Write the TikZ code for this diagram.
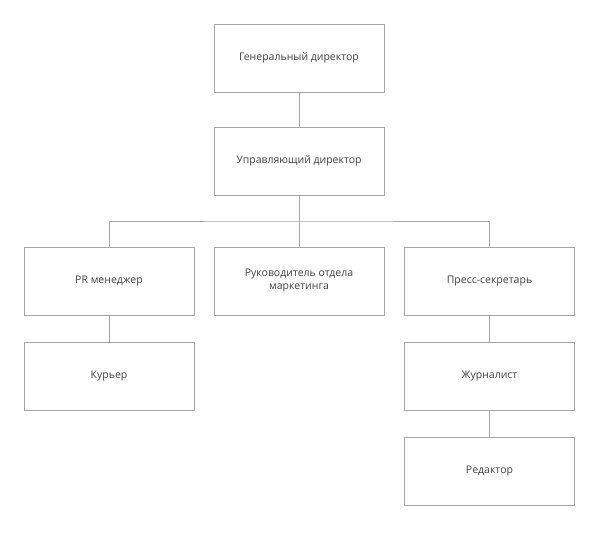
\documentclass[tikz,border=0pt]{standalone}
\usepackage{fontspec}
\setmainfont{Open Sans}
\begin{document}
\begin{tikzpicture}[x=1pt,y=-1pt,
  box/.style={draw=black!35,line width=0.8pt,minimum width=170pt,minimum height=68pt,align=center,font=\fontsize{10.5}{13}\selectfont,text=black!75,inner sep=2pt},
  con/.style={draw=black!35,line width=0.8pt}]
\useasboundingbox (0,0) rectangle (600,549);
\node[box] (gd) at (299,58) {Генеральный директор};
\node[box] (ud) at (299,161) {Управляющий директор};
\node[box] (pr) at (109,281) {PR менеджер};
\node[box] (rm) at (299,281) {Руководитель отдела\\маркетинга};
\node[box] (ps) at (489.5,281) {Пресс-секретарь};
\node[box] (ku) at (109,376) {Курьер};
\node[box] (zh) at (489.5,376) {Журналист};
\node[box] (re) at (489.5,471) {Редактор};
\coordinate (j) at (299,221);
\draw[con] (gd) -- (ud);
\draw[con] (ud) -- (rm);
\draw[con] (pr.north) |- (j) -| (ps.north);
\draw[con] (pr) -- (ku);
\draw[con] (ps) -- (zh);
\draw[con] (zh) -- (re);
\end{tikzpicture}
\end{document}
